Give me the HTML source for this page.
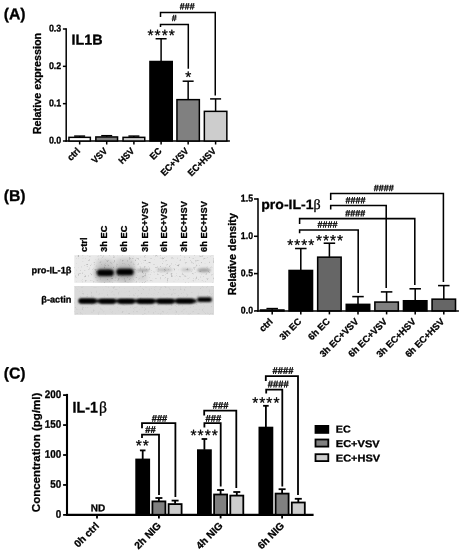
<!DOCTYPE html>
<html><head><meta charset="utf-8"><title>Figure</title>
<style>
html,body{margin:0;padding:0;background:#fff;}
body{width:463px;height:550px;overflow:hidden;}
svg{display:block;font-family:"Liberation Sans",sans-serif;fill:#000;}
text{stroke:#000;stroke-width:0.3px;stroke-linejoin:round;}
</style></head><body>
<svg width="463" height="550" viewBox="0 0 463 550">
<rect x="0" y="0" width="463" height="550" fill="#fff"/>
<text font-size="15.8" font-weight="bold" text-anchor="start" transform="translate(3.7 19.2) rotate(0.05)">(A)</text>
<line x1="66.2" y1="28.25" x2="66.2" y2="141.75" stroke="#000" stroke-width="1.5"/>
<line x1="65.45" y1="141" x2="229.9" y2="141" stroke="#000" stroke-width="1.5"/>
<line x1="62.900000000000006" y1="28.999999999999986" x2="66.2" y2="28.999999999999986" stroke="#000" stroke-width="1.5"/>
<text font-size="9.8" font-weight="bold" text-anchor="end" transform="translate(61.3 31.599999999999987) rotate(0.05) scale(0.91 1)">0.3</text>
<line x1="62.900000000000006" y1="66.33333333333333" x2="66.2" y2="66.33333333333333" stroke="#000" stroke-width="1.5"/>
<text font-size="9.8" font-weight="bold" text-anchor="end" transform="translate(61.3 68.93333333333332) rotate(0.05) scale(0.91 1)">0.2</text>
<line x1="62.900000000000006" y1="103.66666666666666" x2="66.2" y2="103.66666666666666" stroke="#000" stroke-width="1.5"/>
<text font-size="9.8" font-weight="bold" text-anchor="end" transform="translate(61.3 106.26666666666665) rotate(0.05) scale(0.91 1)">0.1</text>
<line x1="62.900000000000006" y1="141.0" x2="66.2" y2="141.0" stroke="#000" stroke-width="1.5"/>
<text font-size="9.8" font-weight="bold" text-anchor="end" transform="translate(61.3 143.6) rotate(0.05) scale(0.91 1)">0.0</text>
<text font-size="10.8" font-weight="bold" text-anchor="middle" transform="translate(40.8 83.5) rotate(-90)">Relative expression</text>
<text font-size="14.2" font-weight="bold" text-anchor="start" transform="translate(71.5 44.6) rotate(0.05) scale(1.01 1)">IL1B</text>
<line x1="79.65" y1="136.1" x2="79.65" y2="137.1" stroke="#000" stroke-width="1.5"/>
<line x1="74.15" y1="136.1" x2="85.15" y2="136.1" stroke="#000" stroke-width="1.5"/>
<rect x="68.95" y="137.35" width="21.40" height="3.65" fill="#fff" stroke="#000" stroke-width="1.5"/>
<line x1="79.65" y1="141" x2="79.65" y2="144.5" stroke="#000" stroke-width="1.5"/>
<text font-size="9.3" font-weight="bold" text-anchor="end" transform="translate(80.75 151.6) rotate(-45) scale(0.95 1)">ctrl</text>
<line x1="106.69999999999999" y1="135.7" x2="106.69999999999999" y2="136.7" stroke="#000" stroke-width="1.5"/>
<line x1="101.19999999999999" y1="135.7" x2="112.19999999999999" y2="135.7" stroke="#000" stroke-width="1.5"/>
<rect x="95.85" y="136.95" width="21.70" height="4.05" fill="#808080" stroke="#000" stroke-width="1.5"/>
<line x1="106.69999999999999" y1="141" x2="106.69999999999999" y2="144.5" stroke="#000" stroke-width="1.5"/>
<text font-size="9.3" font-weight="bold" text-anchor="end" transform="translate(107.79999999999998 151.6) rotate(-45) scale(0.95 1)">VSV</text>
<line x1="133.9" y1="136.1" x2="133.9" y2="137.1" stroke="#000" stroke-width="1.5"/>
<line x1="128.4" y1="136.1" x2="139.4" y2="136.1" stroke="#000" stroke-width="1.5"/>
<rect x="123.05" y="137.35" width="21.70" height="3.65" fill="#cdcdcd" stroke="#000" stroke-width="1.5"/>
<line x1="133.9" y1="141" x2="133.9" y2="144.5" stroke="#000" stroke-width="1.5"/>
<text font-size="9.3" font-weight="bold" text-anchor="end" transform="translate(135.0 151.6) rotate(-45) scale(0.95 1)">HSV</text>
<line x1="161.1" y1="38.75" x2="161.1" y2="61.25" stroke="#000" stroke-width="1.5"/>
<line x1="155.6" y1="38.75" x2="166.6" y2="38.75" stroke="#000" stroke-width="1.5"/>
<rect x="149.95" y="61.50" width="22.30" height="79.50" fill="#000" stroke="#000" stroke-width="1.5"/>
<line x1="161.1" y1="141" x2="161.1" y2="144.5" stroke="#000" stroke-width="1.5"/>
<text font-size="9.3" font-weight="bold" text-anchor="end" transform="translate(162.2 151.6) rotate(-45) scale(0.95 1)">EC</text>
<line x1="188.14999999999998" y1="81.2" x2="188.14999999999998" y2="99.4" stroke="#000" stroke-width="1.5"/>
<line x1="182.64999999999998" y1="81.2" x2="193.64999999999998" y2="81.2" stroke="#000" stroke-width="1.5"/>
<rect x="176.95" y="99.65" width="22.40" height="41.35" fill="#808080" stroke="#000" stroke-width="1.5"/>
<line x1="188.14999999999998" y1="141" x2="188.14999999999998" y2="144.5" stroke="#000" stroke-width="1.5"/>
<text font-size="9.3" font-weight="bold" text-anchor="end" transform="translate(189.24999999999997 151.6) rotate(-45) scale(0.95 1)">EC+VSV</text>
<line x1="215.6" y1="98.9" x2="215.6" y2="111.1" stroke="#000" stroke-width="1.5"/>
<line x1="210.1" y1="98.9" x2="221.1" y2="98.9" stroke="#000" stroke-width="1.5"/>
<rect x="204.35" y="111.35" width="22.50" height="29.65" fill="#cdcdcd" stroke="#000" stroke-width="1.5"/>
<line x1="215.6" y1="141" x2="215.6" y2="144.5" stroke="#000" stroke-width="1.5"/>
<text font-size="9.3" font-weight="bold" text-anchor="end" transform="translate(216.7 151.6) rotate(-45) scale(0.95 1)">EC+HSV</text>
<text transform="translate(161.64999999999998 40.40) rotate(0.05)" font-size="15.5" font-weight="normal" text-anchor="middle" letter-spacing="1.0" stroke="#000" stroke-width="0.4">****</text>
<text transform="translate(188.75 82.20) rotate(0.05)" font-size="15.5" font-weight="normal" text-anchor="middle" letter-spacing="1.0" stroke="#000" stroke-width="0.4">*</text>
<path d="M160.5 27 V24.4 H188.3 V68.75" fill="none" stroke="#000" stroke-width="1.5" stroke-linejoin="miter"/>
<path d="M160.5 17 V12.5 H215.25 V95.5" fill="none" stroke="#000" stroke-width="1.5" stroke-linejoin="miter"/>
<text transform="translate(174.3 21.1) rotate(0.05)" font-size="8.8" font-weight="bold" text-anchor="middle" stroke="#000" stroke-width="0.45">#</text>
<text transform="translate(187.2 9.2) rotate(0.05)" font-size="8.8" font-weight="bold" text-anchor="middle" stroke="#000" stroke-width="0.45">###</text>
<text font-size="15.8" font-weight="bold" text-anchor="start" transform="translate(3.7 201) rotate(0.05)">(B)</text>
<text font-size="9.3" font-weight="bold" text-anchor="start" transform="translate(86.89999999999999 252) rotate(-90)">ctrl</text>
<text font-size="9.3" font-weight="bold" text-anchor="start" transform="translate(107.3 252) rotate(-90)">3h EC</text>
<text font-size="9.3" font-weight="bold" text-anchor="start" transform="translate(126.89999999999999 252) rotate(-90)">6h EC</text>
<text font-size="9.3" font-weight="bold" text-anchor="start" transform="translate(148.3 252) rotate(-90)">3h EC+VSV</text>
<text font-size="9.3" font-weight="bold" text-anchor="start" transform="translate(167.4 252) rotate(-90)">6h EC+VSV</text>
<text font-size="9.3" font-weight="bold" text-anchor="start" transform="translate(186.9 252) rotate(-90)">3h EC+HSV</text>
<text font-size="9.3" font-weight="bold" text-anchor="start" transform="translate(206.60000000000002 252) rotate(-90)">6h EC+HSV</text>
<text font-size="9.2" font-weight="bold" text-anchor="end" transform="translate(71.4 273.2) rotate(0.05)">pro-IL-1β</text>
<text font-size="9.2" font-weight="bold" text-anchor="end" transform="translate(71.4 302.5) rotate(0.05)">β-actin</text>
<defs><filter id="b1" x="-30%" y="-80%" width="160%" height="260%"><feGaussianBlur stdDeviation="1.0"/></filter><filter id="b2" x="-30%" y="-80%" width="160%" height="260%"><feGaussianBlur stdDeviation="2"/></filter><filter id="b3" x="-30%" y="-80%" width="160%" height="260%"><feGaussianBlur stdDeviation="0.8"/></filter><filter id="nz" x="0" y="0" width="100%" height="100%"><feTurbulence type="fractalNoise" baseFrequency="0.45" numOctaves="2" seed="7" result="t"/><feColorMatrix in="t" type="matrix" values="0 0 0 0 0  0 0 0 0 0  0 0 0 0 0  3 0 0 0 -1.78"/></filter><clipPath id="c1"><rect x="74.3" y="255.1" width="139.7" height="27.7"/></clipPath><clipPath id="c2"><rect x="74.3" y="286" width="139.7" height="28.8"/></clipPath></defs>
<rect x="74.3" y="255.1" width="139.7" height="27.7" fill="#e9e9e9"/>
<g clip-path="url(#c1)">
<rect x="96" y="259" width="19" height="26" rx="5" fill="#cccccc" filter="url(#b2)"/>
<rect x="115.5" y="258" width="19" height="27" rx="5" fill="#cccccc" filter="url(#b2)"/>
<ellipse cx="105.5" cy="273" rx="11" ry="6" fill="#a0a0a0" filter="url(#b2)"/>
<ellipse cx="125" cy="272.3" rx="11" ry="6" fill="#a0a0a0" filter="url(#b2)"/>
<rect x="97" y="269.4" width="16.8" height="6.6" rx="3.3" fill="#000" filter="url(#b1)"/>
<rect x="116.4" y="268.7" width="17.2" height="6.6" rx="3.3" fill="#000" filter="url(#b1)"/>
<ellipse cx="143" cy="270.4" rx="6.5" ry="2" fill="#adadad" filter="url(#b1)"/>
<ellipse cx="142" cy="277.5" rx="5.5" ry="4.5" fill="#d4d4d4" filter="url(#b2)"/>
<ellipse cx="164.5" cy="269.8" rx="8" ry="1.9" fill="#c2c2c2" filter="url(#b1)"/>
<ellipse cx="186.5" cy="269.8" rx="5.5" ry="1.8" fill="#c8c8c8" filter="url(#b1)"/>
<ellipse cx="204" cy="270.2" rx="7" ry="2.2" fill="#a6a6a6" filter="url(#b1)"/>
<rect x="74.3" y="255.1" width="139.7" height="27.7" fill="#666" filter="url(#nz)" opacity="0.3"/>
</g>
<rect x="74.3" y="286" width="139.7" height="28.8" fill="#dadada"/>
<g clip-path="url(#c2)">
<rect x="79" y="299.3" width="118" height="3.4" rx="1.7" fill="#111" filter="url(#b3)"/>
<rect x="78.5" y="298.59999999999997" width="17.5" height="4.8" rx="2.4" fill="#000" filter="url(#b3)"/>
<rect x="99" y="298.9" width="16.5" height="4.8" rx="2.4" fill="#000" filter="url(#b3)"/>
<rect x="118" y="298.9" width="16.5" height="4.8" rx="2.4" fill="#000" filter="url(#b3)"/>
<rect x="137" y="298.9" width="17.5" height="4.8" rx="2.4" fill="#000" filter="url(#b3)"/>
<rect x="157" y="298.9" width="17" height="4.8" rx="2.4" fill="#000" filter="url(#b3)"/>
<rect x="176" y="298.7" width="18" height="4.8" rx="2.4" fill="#000" filter="url(#b3)"/>
<rect x="197" y="297.29999999999995" width="15" height="4.8" rx="2.4" fill="#000" filter="url(#b3)"/>
<rect x="74.3" y="286" width="139.7" height="28.8" fill="#666" filter="url(#nz)" opacity="0.12"/>
</g>
<line x1="258" y1="198.25" x2="258" y2="311.65" stroke="#000" stroke-width="1.55"/>
<line x1="257.25" y1="310.9" x2="458.9" y2="310.9" stroke="#000" stroke-width="1.55"/>
<line x1="254" y1="199.0" x2="258" y2="199.0" stroke="#000" stroke-width="1.55"/>
<text font-size="9.8" font-weight="bold" text-anchor="end" transform="translate(253 201.6) rotate(0.05) scale(0.892 1)">1.5</text>
<line x1="254" y1="236.29999999999998" x2="258" y2="236.29999999999998" stroke="#000" stroke-width="1.55"/>
<text font-size="9.8" font-weight="bold" text-anchor="end" transform="translate(253 238.89999999999998) rotate(0.05) scale(0.892 1)">1.0</text>
<line x1="254" y1="273.59999999999997" x2="258" y2="273.59999999999997" stroke="#000" stroke-width="1.55"/>
<text font-size="9.8" font-weight="bold" text-anchor="end" transform="translate(253 276.2) rotate(0.05) scale(0.892 1)">0.5</text>
<line x1="254" y1="310.9" x2="258" y2="310.9" stroke="#000" stroke-width="1.55"/>
<text font-size="9.8" font-weight="bold" text-anchor="end" transform="translate(253 313.5) rotate(0.05) scale(0.892 1)">0.0</text>
<text font-size="10.8" font-weight="bold" text-anchor="middle" transform="translate(235.7 254.2) rotate(-90)">Relative density</text>
<text font-size="13.5" font-weight="bold" text-anchor="start" transform="translate(261.3 208.9) rotate(0.05) scale(1.04 1)">pro-IL-1</text>
<text transform="translate(313.6 208.9) rotate(0.05)" font-size="14" font-weight="normal" font-family="'Liberation Serif', serif">β</text>
<line x1="272.2" y1="308.6" x2="272.2" y2="309.8" stroke="#000" stroke-width="1.55"/>
<line x1="266.45" y1="308.6" x2="277.95" y2="308.6" stroke="#000" stroke-width="1.55"/>
<rect x="260.20" y="309.80" width="24.00" height="1.35" fill="#000" stroke="#000" stroke-width="1"/>
<line x1="272.2" y1="310.9" x2="272.2" y2="314.4" stroke="#000" stroke-width="1.55"/>
<text font-size="9.3" font-weight="bold" text-anchor="end" transform="translate(273.3 322.09999999999997) rotate(-45) scale(1.0 1)">ctrl</text>
<line x1="300.8" y1="248.5" x2="300.8" y2="270.2" stroke="#000" stroke-width="1.55"/>
<line x1="295.05" y1="248.5" x2="306.55" y2="248.5" stroke="#000" stroke-width="1.55"/>
<rect x="289.07" y="270.47" width="23.45" height="40.40" fill="#000" stroke="#000" stroke-width="1.55"/>
<line x1="300.8" y1="310.9" x2="300.8" y2="314.4" stroke="#000" stroke-width="1.55"/>
<text font-size="9.3" font-weight="bold" text-anchor="end" transform="translate(301.90000000000003 322.09999999999997) rotate(-45) scale(1.0 1)">3h EC</text>
<line x1="329.4" y1="243.2" x2="329.4" y2="256.9" stroke="#000" stroke-width="1.55"/>
<line x1="323.65" y1="243.2" x2="335.15" y2="243.2" stroke="#000" stroke-width="1.55"/>
<rect x="317.67" y="257.17" width="23.45" height="53.70" fill="#666" stroke="#000" stroke-width="1.55"/>
<line x1="329.4" y1="310.9" x2="329.4" y2="314.4" stroke="#000" stroke-width="1.55"/>
<text font-size="9.3" font-weight="bold" text-anchor="end" transform="translate(330.5 322.09999999999997) rotate(-45) scale(1.0 1)">6h EC</text>
<line x1="358.0" y1="296.6" x2="358.0" y2="304.1" stroke="#000" stroke-width="1.55"/>
<line x1="352.25" y1="296.6" x2="363.75" y2="296.6" stroke="#000" stroke-width="1.55"/>
<rect x="346.27" y="304.38" width="23.45" height="6.50" fill="#000" stroke="#000" stroke-width="1.55"/>
<line x1="358.0" y1="310.9" x2="358.0" y2="314.4" stroke="#000" stroke-width="1.55"/>
<text font-size="9.3" font-weight="bold" text-anchor="end" transform="translate(359.1 322.09999999999997) rotate(-45) scale(1.0 1)">3h EC+VSV</text>
<line x1="386.6" y1="291.9" x2="386.6" y2="301.8" stroke="#000" stroke-width="1.55"/>
<line x1="380.85" y1="291.9" x2="392.35" y2="291.9" stroke="#000" stroke-width="1.55"/>
<rect x="374.88" y="302.07" width="23.45" height="8.80" fill="#808080" stroke="#000" stroke-width="1.55"/>
<line x1="386.6" y1="310.9" x2="386.6" y2="314.4" stroke="#000" stroke-width="1.55"/>
<text font-size="9.3" font-weight="bold" text-anchor="end" transform="translate(387.70000000000005 322.09999999999997) rotate(-45) scale(1.0 1)">6h EC+VSV</text>
<line x1="415.2" y1="288.8" x2="415.2" y2="300.5" stroke="#000" stroke-width="1.55"/>
<line x1="409.45" y1="288.8" x2="420.95" y2="288.8" stroke="#000" stroke-width="1.55"/>
<rect x="403.47" y="300.77" width="23.45" height="10.10" fill="#000" stroke="#000" stroke-width="1.55"/>
<line x1="415.2" y1="310.9" x2="415.2" y2="314.4" stroke="#000" stroke-width="1.55"/>
<text font-size="9.3" font-weight="bold" text-anchor="end" transform="translate(416.3 322.09999999999997) rotate(-45) scale(1.0 1)">3h EC+HSV</text>
<line x1="443.8" y1="285.6" x2="443.8" y2="298.9" stroke="#000" stroke-width="1.55"/>
<line x1="438.05" y1="285.6" x2="449.55" y2="285.6" stroke="#000" stroke-width="1.55"/>
<rect x="432.07" y="299.17" width="23.45" height="11.70" fill="#666" stroke="#000" stroke-width="1.55"/>
<line x1="443.8" y1="310.9" x2="443.8" y2="314.4" stroke="#000" stroke-width="1.55"/>
<text font-size="9.3" font-weight="bold" text-anchor="end" transform="translate(444.90000000000003 322.09999999999997) rotate(-45) scale(1.0 1)">6h EC+HSV</text>
<text transform="translate(301.25 250.20) rotate(0.05)" font-size="15.5" font-weight="normal" text-anchor="middle" letter-spacing="1.0" stroke="#000" stroke-width="0.4">****</text>
<text transform="translate(329.95 245.70) rotate(0.05)" font-size="15.5" font-weight="normal" text-anchor="middle" letter-spacing="1.0" stroke="#000" stroke-width="0.4">****</text>
<path d="M330.7 200 V193.5 H443.4 V282" fill="none" stroke="#000" stroke-width="1.55" stroke-linejoin="miter"/>
<path d="M330.7 209.5 V205.5 H386.2 V288" fill="none" stroke="#000" stroke-width="1.55" stroke-linejoin="miter"/>
<path d="M299.6 224 V218.6 H414.8 V285" fill="none" stroke="#000" stroke-width="1.55" stroke-linejoin="miter"/>
<path d="M299.6 233.2 V229.9 H358.2 V293" fill="none" stroke="#000" stroke-width="1.55" stroke-linejoin="miter"/>
<text transform="translate(383.8 190.9) rotate(0.05)" font-size="9" font-weight="bold" text-anchor="middle" stroke="#000" stroke-width="0.45">####</text>
<text transform="translate(355.6 203.3) rotate(0.05)" font-size="9" font-weight="bold" text-anchor="middle" stroke="#000" stroke-width="0.45">####</text>
<text transform="translate(355.2 216.3) rotate(0.05)" font-size="9" font-weight="bold" text-anchor="middle" stroke="#000" stroke-width="0.45">####</text>
<text transform="translate(327.5 227.6) rotate(0.05)" font-size="9" font-weight="bold" text-anchor="middle" stroke="#000" stroke-width="0.45">####</text>
<text font-size="15.8" font-weight="bold" text-anchor="start" transform="translate(3.7 378.5) rotate(0.05)">(C)</text>
<line x1="67" y1="393.9" x2="67" y2="515.9" stroke="#000" stroke-width="2.1"/>
<line x1="66" y1="514.9" x2="313.6" y2="514.9" stroke="#000" stroke-width="2.1"/>
<line x1="63.1" y1="395.09999999999997" x2="67" y2="395.09999999999997" stroke="#000" stroke-width="1.8"/>
<text font-size="11" font-weight="bold" text-anchor="end" transform="translate(61.3 397.9) rotate(0.05) scale(0.9 1)">200</text>
<line x1="63.1" y1="425.04999999999995" x2="67" y2="425.04999999999995" stroke="#000" stroke-width="1.8"/>
<text font-size="11" font-weight="bold" text-anchor="end" transform="translate(61.3 427.84999999999997) rotate(0.05) scale(0.9 1)">150</text>
<line x1="63.1" y1="455.0" x2="67" y2="455.0" stroke="#000" stroke-width="1.8"/>
<text font-size="11" font-weight="bold" text-anchor="end" transform="translate(61.3 457.8) rotate(0.05) scale(0.9 1)">100</text>
<line x1="63.1" y1="484.95" x2="67" y2="484.95" stroke="#000" stroke-width="1.8"/>
<text font-size="11" font-weight="bold" text-anchor="end" transform="translate(61.3 487.75) rotate(0.05) scale(0.9 1)">50</text>
<line x1="63.1" y1="514.9" x2="67" y2="514.9" stroke="#000" stroke-width="1.8"/>
<text font-size="11" font-weight="bold" text-anchor="end" transform="translate(61.3 517.6999999999999) rotate(0.05) scale(0.9 1)">0</text>
<text font-size="11.5" font-weight="bold" text-anchor="middle" transform="translate(39.7 452.4) rotate(-90)">Concentration (pg/ml)</text>
<text font-size="15.3" font-weight="bold" text-anchor="start" transform="translate(72.6 412.5) rotate(0.05) scale(0.93 1)">IL-1</text>
<text transform="translate(99 412.5) rotate(0.05)" font-size="15.6" font-weight="normal" font-family="'Liberation Serif', serif">β</text>
<text font-size="10" font-weight="bold" text-anchor="middle" transform="translate(98 511.3) rotate(0.05)">ND</text>
<line x1="97" y1="514.9" x2="97" y2="518.4" stroke="#000" stroke-width="1.8"/>
<text font-size="10.2" font-weight="bold" text-anchor="end" transform="translate(99.8 526.5) rotate(-45)">0h ctrl</text>
<line x1="158.9" y1="514.9" x2="158.9" y2="518.4" stroke="#000" stroke-width="1.8"/>
<text font-size="10.2" font-weight="bold" text-anchor="end" transform="translate(161.70000000000002 526.5) rotate(-45)">2h NIG</text>
<line x1="142.70000000000002" y1="450.4" x2="142.70000000000002" y2="459.1" stroke="#000" stroke-width="1.8"/>
<line x1="139.9" y1="450.4" x2="145.50000000000003" y2="450.4" stroke="#000" stroke-width="1.8"/>
<rect x="136.20" y="459.50" width="13.00" height="55.25" fill="#000" stroke="#000" stroke-width="1.8"/>
<line x1="158.9" y1="498" x2="158.9" y2="501.0" stroke="#000" stroke-width="1.8"/>
<line x1="155.4" y1="498" x2="162.4" y2="498" stroke="#000" stroke-width="1.8"/>
<rect x="152.40" y="501.40" width="13.00" height="13.35" fill="#808080" stroke="#000" stroke-width="1.8"/>
<line x1="175.1" y1="500.6" x2="175.1" y2="503.7" stroke="#000" stroke-width="1.8"/>
<line x1="171.6" y1="500.6" x2="178.6" y2="500.6" stroke="#000" stroke-width="1.8"/>
<rect x="168.60" y="504.10" width="13.00" height="10.65" fill="#cdcdcd" stroke="#000" stroke-width="1.8"/>
<line x1="220.6" y1="514.9" x2="220.6" y2="518.4" stroke="#000" stroke-width="1.8"/>
<text font-size="10.2" font-weight="bold" text-anchor="end" transform="translate(223.4 526.5) rotate(-45)">4h NIG</text>
<line x1="204.4" y1="439" x2="204.4" y2="449.8" stroke="#000" stroke-width="1.8"/>
<line x1="201.6" y1="439" x2="207.20000000000002" y2="439" stroke="#000" stroke-width="1.8"/>
<rect x="197.90" y="450.20" width="13.00" height="64.55" fill="#000" stroke="#000" stroke-width="1.8"/>
<line x1="220.6" y1="490" x2="220.6" y2="494.1" stroke="#000" stroke-width="1.8"/>
<line x1="217.1" y1="490" x2="224.1" y2="490" stroke="#000" stroke-width="1.8"/>
<rect x="214.10" y="494.50" width="13.00" height="20.25" fill="#808080" stroke="#000" stroke-width="1.8"/>
<line x1="236.79999999999998" y1="492" x2="236.79999999999998" y2="495.2" stroke="#000" stroke-width="1.8"/>
<line x1="233.29999999999998" y1="492" x2="240.29999999999998" y2="492" stroke="#000" stroke-width="1.8"/>
<rect x="230.30" y="495.60" width="13.00" height="19.15" fill="#cdcdcd" stroke="#000" stroke-width="1.8"/>
<line x1="282.1" y1="514.9" x2="282.1" y2="518.4" stroke="#000" stroke-width="1.8"/>
<text font-size="10.2" font-weight="bold" text-anchor="end" transform="translate(284.90000000000003 526.5) rotate(-45)">6h NIG</text>
<line x1="265.9000000000001" y1="405.8" x2="265.9000000000001" y2="427.2" stroke="#000" stroke-width="1.8"/>
<line x1="263.1000000000001" y1="405.8" x2="268.7000000000001" y2="405.8" stroke="#000" stroke-width="1.8"/>
<rect x="259.40" y="427.60" width="13.00" height="87.15" fill="#000" stroke="#000" stroke-width="1.8"/>
<line x1="282.1" y1="489.2" x2="282.1" y2="493.2" stroke="#000" stroke-width="1.8"/>
<line x1="278.6" y1="489.2" x2="285.6" y2="489.2" stroke="#000" stroke-width="1.8"/>
<rect x="275.60" y="493.60" width="13.00" height="21.15" fill="#808080" stroke="#000" stroke-width="1.8"/>
<line x1="298.30000000000007" y1="498.8" x2="298.30000000000007" y2="502.1" stroke="#000" stroke-width="1.8"/>
<line x1="294.80000000000007" y1="498.8" x2="301.80000000000007" y2="498.8" stroke="#000" stroke-width="1.8"/>
<rect x="291.80" y="502.50" width="13.00" height="12.25" fill="#cdcdcd" stroke="#000" stroke-width="1.8"/>
<text transform="translate(142.75 450.70) rotate(0.05)" font-size="15.5" font-weight="normal" text-anchor="middle" letter-spacing="1.0" stroke="#000" stroke-width="0.4">**</text>
<text transform="translate(204.64999999999998 440.50) rotate(0.05)" font-size="15.5" font-weight="normal" text-anchor="middle" letter-spacing="1.0" stroke="#000" stroke-width="0.4">****</text>
<text transform="translate(266.34999999999997 407.90) rotate(0.05)" font-size="15.5" font-weight="normal" text-anchor="middle" letter-spacing="1.0" stroke="#000" stroke-width="0.4">****</text>
<path d="M142 438 V434.6 H159 V495" fill="none" stroke="#000" stroke-width="1.8" stroke-linejoin="miter"/>
<path d="M142 428.3 V423.1 H175.4 V497" fill="none" stroke="#000" stroke-width="1.8" stroke-linejoin="miter"/>
<text transform="translate(150.4 432.8) rotate(0.05)" font-size="9.4" font-weight="bold" text-anchor="middle" stroke="#000" stroke-width="0.45">##</text>
<text transform="translate(159.5 421.6) rotate(0.05)" font-size="9.4" font-weight="bold" text-anchor="middle" stroke="#000" stroke-width="0.45">###</text>
<path d="M204.4 427.5 V423.2 H220.7 V486.5" fill="none" stroke="#000" stroke-width="1.8" stroke-linejoin="miter"/>
<path d="M204.2 415.5 V410.7 H236.3 V488" fill="none" stroke="#000" stroke-width="1.8" stroke-linejoin="miter"/>
<text transform="translate(213.4 421.5) rotate(0.05)" font-size="9.4" font-weight="bold" text-anchor="middle" stroke="#000" stroke-width="0.45">###</text>
<text transform="translate(220.7 408.6) rotate(0.05)" font-size="9.4" font-weight="bold" text-anchor="middle" stroke="#000" stroke-width="0.45">###</text>
<path d="M266.2 393.5 V389.7 H282.3 V486.5" fill="none" stroke="#000" stroke-width="1.8" stroke-linejoin="miter"/>
<path d="M265.8 381 V376.1 H298 V495" fill="none" stroke="#000" stroke-width="1.8" stroke-linejoin="miter"/>
<text transform="translate(278.2 387.3) rotate(0.05)" font-size="9.4" font-weight="bold" text-anchor="middle" stroke="#000" stroke-width="0.45">####</text>
<text transform="translate(283 373.7) rotate(0.05)" font-size="9.4" font-weight="bold" text-anchor="middle" stroke="#000" stroke-width="0.45">####</text>
<rect x="315.50" y="425.90" width="12.80" height="7.00" fill="#000" stroke="#000" stroke-width="1.8"/>
<rect x="315.50" y="439.50" width="12.80" height="7.10" fill="#808080" stroke="#000" stroke-width="1.8"/>
<rect x="315.50" y="454.20" width="12.80" height="6.90" fill="#cdcdcd" stroke="#000" stroke-width="1.8"/>
<text font-size="10" font-weight="bold" text-anchor="start" transform="translate(335.8 432.5) rotate(0.05) scale(1.07 1)">EC</text>
<text font-size="10" font-weight="bold" text-anchor="start" transform="translate(335.8 447.1) rotate(0.05) scale(1.105 1)">EC+VSV</text>
<text font-size="10" font-weight="bold" text-anchor="start" transform="translate(335.8 461.5) rotate(0.05) scale(1.1 1)">EC+HSV</text>
</svg>
</body></html>
